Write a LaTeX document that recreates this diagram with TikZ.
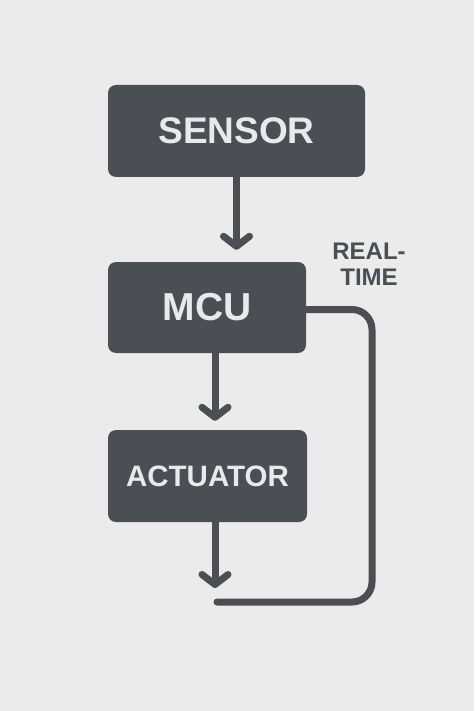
\documentclass[tikz,border=0pt]{standalone}
\usepackage{fontspec}
\setmainfont{Liberation Sans}
\usepackage{xcolor}
\definecolor{mybg}{RGB}{235,235,235}
\definecolor{myslate}{RGB}{75,79,84}
\definecolor{mylight}{RGB}{232,233,234}
\usetikzlibrary{arrows.meta,calc,positioning}
\tikzstyle{block}=[fill=myslate,text=mylight,rounded corners=8pt,inner sep=0pt]
\tikzstyle{flow}=[draw=myslate,line width=7pt,line cap=round,-{Straight Barb[length=10pt,width=26pt,round]}]
\tikzstyle{loopline}=[draw=myslate,line width=7pt,line cap=round,rounded corners=20pt]

\begin{document}
\begin{tikzpicture}[x=1pt,y=-1pt]
\fill[mybg] (0,0) rectangle (474,711);
\useasboundingbox (0,0) rectangle (474,711);
\draw (236.5,131) node [block,minimum width=257pt,minimum height=92pt,font=\bfseries\fontsize{37}{40}\selectfont] (sensor) {SENSOR};
\draw (207,307.5) node [block,minimum width=198pt,minimum height=91pt,font=\bfseries\fontsize{39}{42}\selectfont] (mcu) {MCU};
\draw (207.5,476) node [block,minimum width=199pt,minimum height=92pt,font=\bfseries\fontsize{29.5}{32}\selectfont] (act) {ACTUATOR};
\draw (369,264.5) node [text=myslate,align=center,font=\bfseries\fontsize{24}{26}\selectfont] (rt) {REAL-\\TIME};
\coordinate (out) at (215,588);
\coordinate (corner) at (372,602);
\coordinate (back) at (217,602);
\draw[flow,shorten >=12pt] (sensor.south) -- (sensor.south |- mcu.north);
\draw[flow,shorten >=9pt] ([xshift=8pt]mcu.south) -- ([xshift=8pt]mcu.south |- act.north);
\draw[flow] ([xshift=7.5pt]act.south) -- (out);
\draw[loopline] ([yshift=-2pt]mcu.east) -- ([yshift=-2pt]mcu.east -| corner) -- (corner) -- (back);
\end{tikzpicture}
\end{document}
